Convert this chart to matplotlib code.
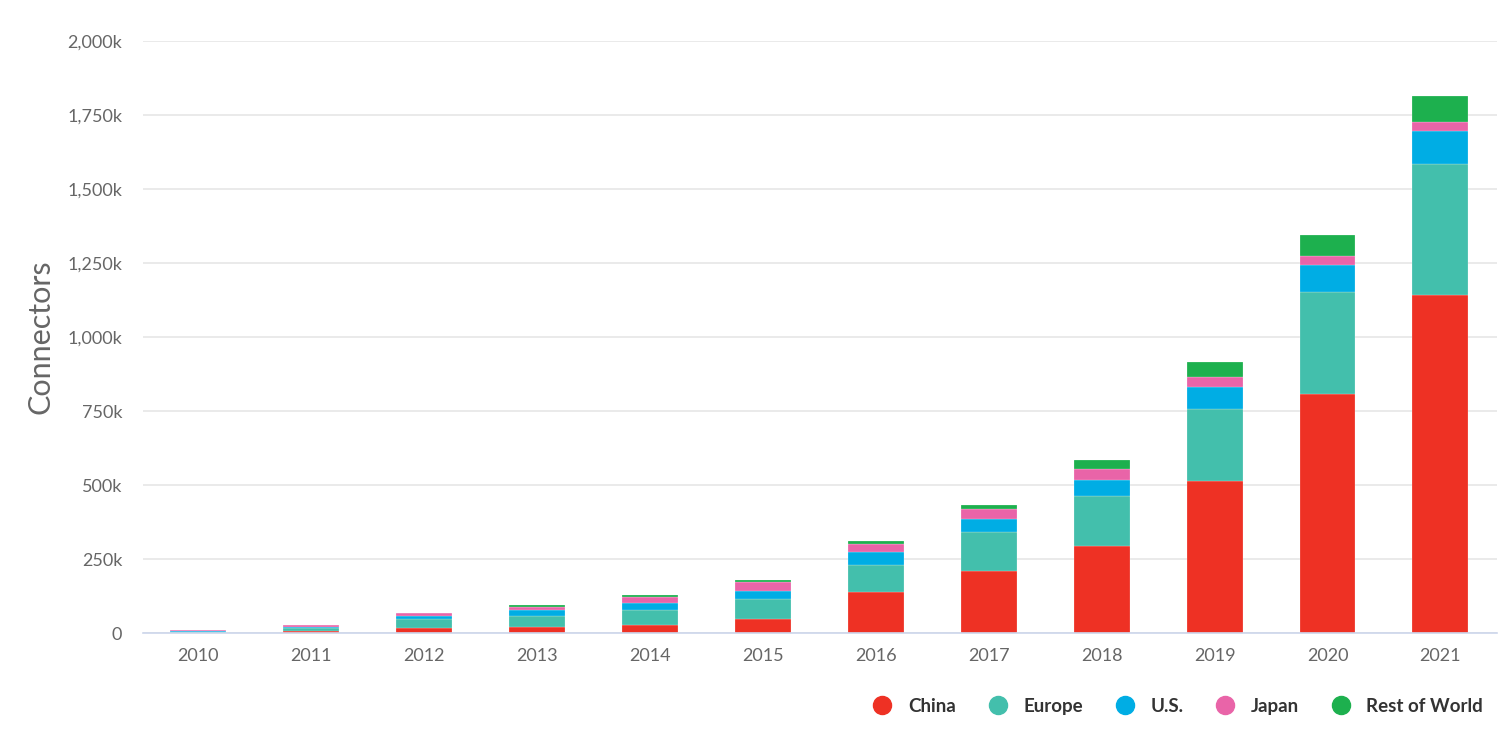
import matplotlib.pyplot as plt
from matplotlib.lines import Line2D
from matplotlib.ticker import FuncFormatter
import numpy as np

# values in thousands of connectors
years = ["2010", "2011", "2012", "2013", "2014", "2015",
         "2016", "2017", "2018", "2019", "2020", "2021"]
china = [1, 8, 17, 21, 27, 46, 139, 209, 295, 513, 807, 1142]
europe = [4, 10, 29, 36, 51, 68, 91, 131, 168, 244, 345, 441]
us = [2, 3, 11, 21, 23, 29, 45, 45, 55, 75, 90, 112]
japan = [4, 6, 10, 10, 22, 30, 26, 33, 35, 33, 32, 30]
rest = [0.5, 0.5, 1, 6, 5, 6, 10, 14, 31, 49, 70, 90]

series = [("China", china, "#ee3124"),
          ("Europe", europe, "#43bfac"),
          ("U.S.", us, "#00ade4"),
          ("Japan", japan, "#e964a8"),
          ("Rest of World", rest, "#1db04e")]

plt.rcParams['font.family'] = ['Lato', 'DejaVu Sans']

fig = plt.figure(figsize=(15.12, 7.45), dpi=100)
ax = fig.add_axes([0.0946, 0.1503, 0.8954, 0.7947])

x = np.arange(len(years))
bottom = np.zeros(len(years))
for name, vals, col in series:
    vals = np.array(vals, dtype=float)
    ax.bar(x, vals, width=0.495, bottom=bottom, color=col,
           edgecolor="white", linewidth=0.15, zorder=3)
    bottom += vals

ax.set_xlim(-0.49, 11.5)
ax.set_ylim(0, 2000)
ax.set_yticks(np.arange(0, 2001, 250))
ax.yaxis.set_major_formatter(FuncFormatter(lambda v, p: "0" if v == 0 else f"{int(v):,}k"))
ax.set_xticks(x)
ax.set_xticklabels(years)

ax.grid(axis="y", color="#e6e6e6", linewidth=1.2, zorder=0)
for s in ["top", "right", "left"]:
    ax.spines[s].set_visible(False)
ax.spines["bottom"].set_color("#ccd6eb")
ax.spines["bottom"].set_linewidth(1.2)
ax.spines["bottom"].set_zorder(4)

ax.tick_params(axis="y", length=0, pad=15, labelsize=13, labelcolor="#666666")
ax.tick_params(axis="x", length=0, pad=11, labelsize=13, labelcolor="#666666")

ax.set_ylabel("Connectors", fontsize=22, color="#666666", labelpad=9)

handles = [Line2D([0], [0], marker="o", linestyle="", markersize=13,
                  markerfacecolor=col, markeredgecolor=col, label=name)
           for name, vals, col in series]
leg = fig.legend(handles=handles, loc="lower right", ncol=5,
                 bbox_to_anchor=(0.992, 0.018), frameon=False,
                 handletextpad=0.35, columnspacing=1.25,
                 prop={"size": 13.5, "weight": "bold"})
for t in leg.get_texts():
    t.set_color("#333333")

fig.savefig("out.png", dpi=100)
